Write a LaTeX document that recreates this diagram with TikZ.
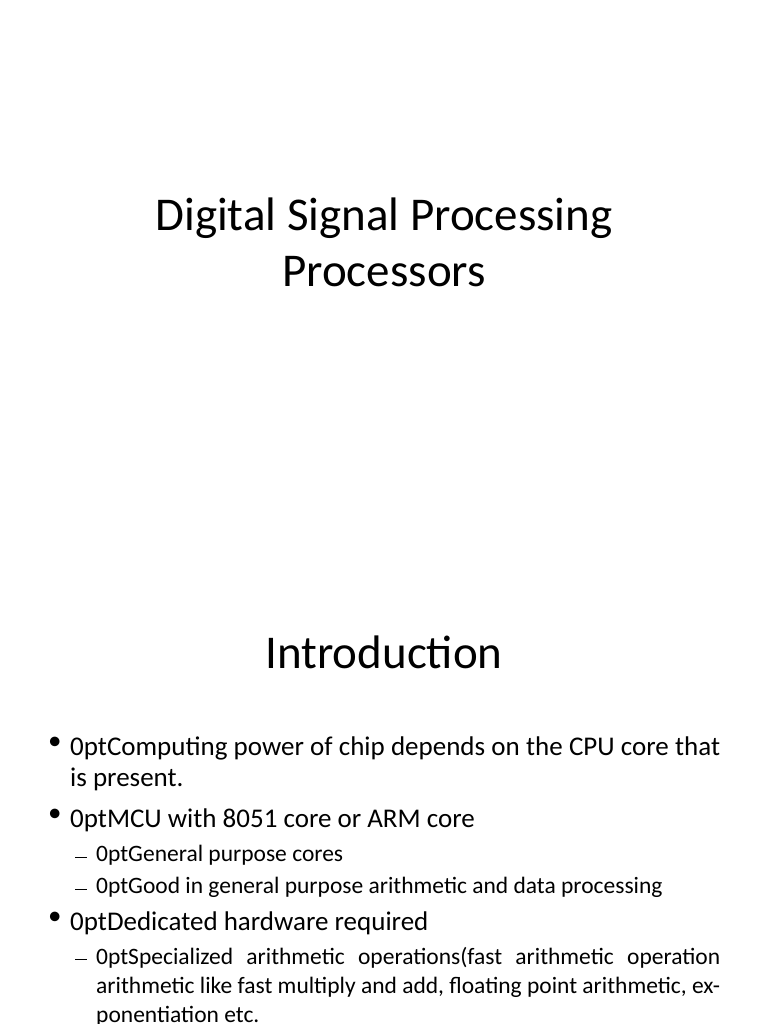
\documentclass[tikz,border=0pt]{standalone}
\usepackage{fontspec}
\setmainfont{Carlito}
\newcommand{\mydash}{\strut\rule[0.3em]{0.5em}{1.2pt}}
\begin{document}
\begin{tikzpicture}[x=1pt,y=-1pt,
  title/.style={font=\fontsize{47}{54}\selectfont, align=center, inner sep=0},
  lvl1/.style={font=\fontsize{27}{31}\selectfont\lefthyphenmin=64, anchor=north west, inner sep=0, text width=650pt, align=justify},
  lvl2/.style={font=\fontsize{23.5}{29}\selectfont\lefthyphenmin=64, anchor=north west, inner sep=0, text width=624pt, align=justify},
  mark1/.style={font=\fontsize{27}{31}\selectfont, anchor=north west, inner sep=0},
  mark2/.style={font=\fontsize{23.5}{29}\selectfont, anchor=north west, inner sep=0}]
\useasboundingbox (0,0) rectangle (768,1024);
\clip (0,0) rectangle (768,1024);
\fill[white] (0,0) rectangle (768,1024);
\node[title] (t1) at (384,218) {Digital Signal Processing};
\node[title] (t2) at (384,272) {Processors};
\node[title] (intro) at (384,652) {Introduction};
\node[mark1] (b1) at (48,737) {•};
\node[lvl1] (p1) at (70,737) {Computing power of chip depends on the CPU core that is present.};
\node[mark1] (b2) at (48,809) {•};
\node[lvl1] (p2) at (70,809) {MCU with 8051 core or ARM core};
\node[mark2] (d1) at (75,845) {\mydash};
\node[lvl2] (s1) at (96,845) {General purpose cores};
\node[mark2] (d2) at (75,877) {\mydash};
\node[lvl2] (s2) at (96,877) {Good in general purpose arithmetic and data processing};
\node[mark1] (b3) at (48,912) {•};
\node[lvl1] (p3) at (70,912) {Dedicated hardware required};
\node[mark2] (d3) at (75,947) {\mydash};
\node[lvl2] (s3) at (96,947) {Specialized arithmetic operations(fast arithmetic operation arithmetic like fast multiply and add, floating point arithmetic, exponentiation etc.};
\end{tikzpicture}
\end{document}
